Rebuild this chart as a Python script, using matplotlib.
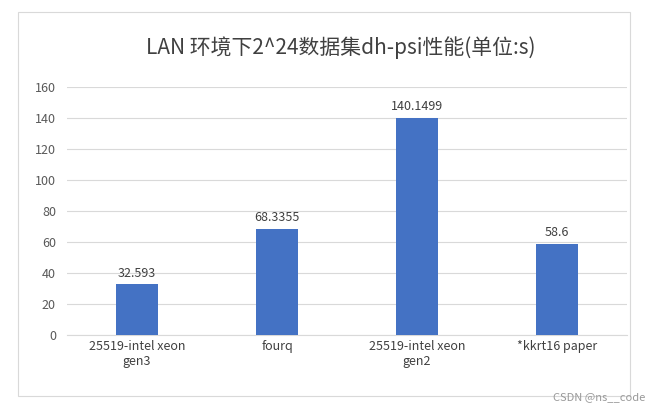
import matplotlib
matplotlib.use("Agg")
import matplotlib.pyplot as plt
from matplotlib.patches import Rectangle

plt.rcParams['font.family'] = ['Noto Sans CJK SC', 'DejaVu Sans']

categories = ["25519-intel xeon\ngen3", "fourq", "25519-intel xeon\ngen2", "*kkrt16 paper"]
values = [32.593, 68.3355, 140.1499, 58.6]
value_labels = ["32.593", "68.3355", "140.1499", "58.6"]

fig = plt.figure(figsize=(6.55, 4.12), dpi=100)
# outer chart frame
fig.patches.append(Rectangle((18/655, 1-396/412), 612/655, 384/412, transform=fig.transFigure,
                             fill=False, edgecolor="#d9d9d9", linewidth=0.8))
ax = fig.add_axes([67/655, 0.187, 560/655, 0.602])

x = range(len(categories))
ax.bar(x, values, width=0.3, color="#4472c4", zorder=3)
for i, v in enumerate(values):
    ax.text(i, v + 3, value_labels[i], ha="center", va="bottom", fontsize=9, color="#404040")

ax.set_xlim(-0.5, 3.5)
ax.set_ylim(0, 160)
ax.set_yticks(range(0, 161, 20))
ax.grid(axis="y", color="#d9d9d9", linewidth=0.8, zorder=0)
ax.set_xticks(list(x))
ax.set_xticklabels(categories, fontsize=9, color="#404040")
ax.tick_params(axis="y", labelsize=9, labelcolor="#595959", length=0, pad=8)
ax.tick_params(axis="x", length=0)
for s in ["top", "right", "left"]:
    ax.spines[s].set_visible(False)
ax.spines["bottom"].set_color("#d9d9d9")

fig.text(0.52, 1-48/412, "LAN 环境下2^24数据集dh-psi性能(单位:s)", ha="center", va="center",
         fontsize=15, color="#404040")
fig.text(0.985, 0.035, "CSDN @ns__code", ha="right", va="center", fontsize=8, color="#999999")

fig.savefig("out.png", dpi=100)
